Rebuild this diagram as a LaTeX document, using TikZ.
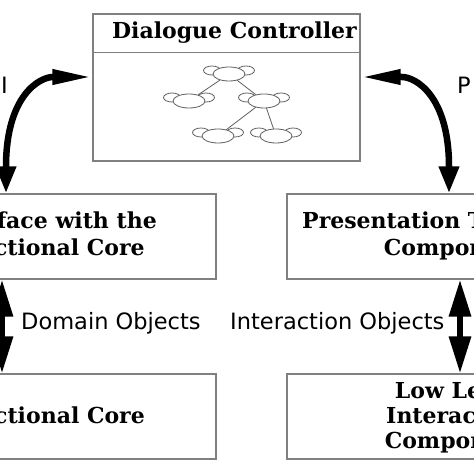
\documentclass[tikz,border=0pt]{standalone}
\usepackage{fontspec}
\usetikzlibrary{arrows.meta,shapes.geometric}
\newfontfamily\boxfont{DejaVu Serif}
\newfontfamily\labfont{DejaVu Sans}
\definecolor{boxgray}{HTML}{808080}
\definecolor{treegray}{HTML}{606060}
\pgfdeclarelayer{bg}
\pgfdeclarelayer{mid}
\pgfsetlayers{bg,mid,main}
\tikzset{
  boxnode/.style={draw=boxgray, line width=1.1bp, inner sep=0pt, minimum height=85bp},
  boxtext/.style={inner sep=0pt, font=\boxfont\bfseries\fontsize{22bp}{26bp}\selectfont},
  labtext/.style={inner sep=0pt, font=\labfont\fontsize{22.5bp}{26bp}\selectfont},
  treenode/.style={ellipse, draw=treegray, line width=0.8bp, fill=white, inner sep=0pt, minimum width=32bp, minimum height=14bp},
  ear/.style={draw=treegray, line width=0.8bp, fill=white},
  treeedge/.style={draw=treegray, line width=0.8bp},
  curvearrow/.style={line width=6.5bp, arrows={Triangle[length=40bp,width=14bp]-Triangle[length=27bp,width=19bp]}},
  vertarrow/.style={line width=6bp, arrows={Triangle[length=37bp,width=21bp]-Triangle[length=37bp,width=21bp]}}
}
\begin{document}
\begin{tikzpicture}[x=1bp, y=-1bp]
\useasboundingbox (0,0) rectangle (474,474);
\begin{pgfonlayer}{bg}
\fill[white] (0,0) rectangle (474,474);
\end{pgfonlayer}
\clip (0,0) rectangle (474,474);

% boxes
\node[boxnode, minimum width=267bp, minimum height=147bp] (dc) at (226.5,87.5) {};
\draw[draw=boxgray, line width=1.1bp] ([yshift=-39bp]dc.north west) -- ([yshift=-39bp]dc.north east);
\node[boxnode, minimum width=366bp] (lm) at (33,236.5) {};
\node[boxnode, minimum width=333bp] (rm) at (453.5,236.5) {};
\node[boxnode, minimum width=366bp] (lb) at (33,416.5) {};
\node[boxnode, minimum width=333bp] (rb) at (453.5,416.5) {};

% box texts
\node[boxtext, anchor=base east] (dct) at (357,39) {Dialogue Controller};
\node[boxtext, anchor=base east] (lmA) at (157,229) {Interface with the};
\node[boxtext, anchor=base] (lmB) at ([yshift=-26bp]lmA.base) {Functional Core};
\node[boxtext, anchor=base west] (rmA) at (302,229) {Presentation Techniques};
\node[boxtext, anchor=base] (rmB) at ([yshift=-26bp]rmA.base) {Component};
\node[boxtext, anchor=base east] (lbt) at (145,423) {Functional Core};
\node[boxtext, anchor=base west] (rbB) at (386,423) {Interaction};
\node[boxtext, anchor=base] (rbA) at ([yshift=25bp]rbB.base) {Low Level};
\node[boxtext, anchor=base] (rbC) at ([yshift=-25bp]rbB.base) {Component};

% tree inside dialogue controller
\node[treenode] (t1) at (229,74) {};
\node[treenode] (t2) at (189,101) {};
\node[treenode] (t3) at (264,101) {};
\node[treenode] (t4) at (218,136) {};
\node[treenode] (t5) at (276,136) {};
\begin{pgfonlayer}{mid}
\foreach \n in {t1,t2,t3,t4,t5}{
  \path[ear] ([xshift=-17bp,yshift=3.5bp]\n.center) ellipse [x radius=8.5bp, y radius=4.5bp];
  \path[ear] ([xshift=17bp,yshift=3.5bp]\n.center) ellipse [x radius=8.5bp, y radius=4.5bp];
}
\end{pgfonlayer}
\begin{pgfonlayer}{bg}
\draw[treeedge] (t1) -- (t2);
\draw[treeedge] (t1) -- (t3);
\draw[treeedge] (t3) -- (t4);
\draw[treeedge] (t3) -- (t5);
\end{pgfonlayer}

% labels
\node[labtext, anchor=base west] (lI) at (1,94) {I};
\node[labtext, anchor=base west] (lP) at (457,94) {P};
\node[labtext, anchor=base west] (ldo) at (21,329) {Domain Objects};
\node[labtext, anchor=base west] (lio) at (230,329) {Interaction Objects};

% connectors
\draw[curvearrow] ([yshift=10.5bp]dc.west) -- (53,77) .. controls (40,77) and (6,95) .. (6,167) -- ([xshift=-27bp]lm.north);
\draw[curvearrow] ([yshift=10.5bp]dc.east) -- (402,77) .. controls (415,77) and (449,95) .. (449,167) -- ([xshift=-4.5bp]rm.north);
\draw[vertarrow] ([xshift=-31bp]lm.south) -- ([xshift=-31bp]lb.north);
\draw[vertarrow] ([xshift=6.5bp]rm.south) -- ([xshift=6.5bp]rb.north);
\end{tikzpicture}
\end{document}
